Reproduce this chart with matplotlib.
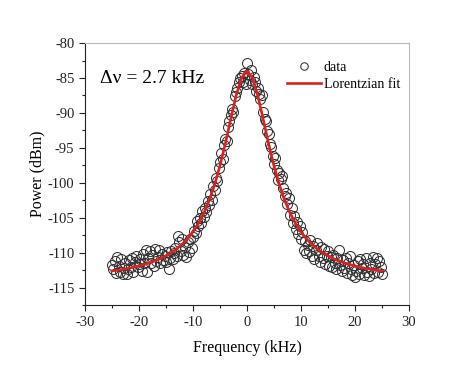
import numpy as np
import matplotlib
matplotlib.use("Agg")
import matplotlib.pyplot as plt
from matplotlib.ticker import MultipleLocator

plt.rcParams['font.family'] = ['Liberation Serif', 'DejaVu Serif']
plt.rcParams['axes.unicode_minus'] = False
plt.rcParams['mathtext.fontset'] = 'stix'

# measured spectrum (kHz, dBm)
freq_khz = [
    -25.0, -24.75, -24.5, -24.25, -24.0, -23.75, -23.5, -23.25, -23.0, -22.75,
    -22.5, -22.25, -22.0, -21.75, -21.5, -21.25, -21.0, -20.75, -20.5, -20.25,
    -20.0, -19.75, -19.5, -19.25, -19.0, -18.75, -18.5, -18.25, -18.0, -17.75,
    -17.5, -17.25, -17.0, -16.75, -16.5, -16.25, -16.0, -15.75, -15.5, -15.25,
    -15.0, -14.75, -14.5, -14.25, -14.0, -13.75, -13.5, -13.25, -13.0, -12.75,
    -12.5, -12.25, -12.0, -11.75, -11.5, -11.25, -11.0, -10.75, -10.5, -10.25,
    -10.0, -9.75, -9.5, -9.25, -9.0, -8.75, -8.5, -8.25, -8.0, -7.75,
    -7.5, -7.25, -7.0, -6.75, -6.5, -6.25, -6.0, -5.75, -5.5, -5.25,
    -5.0, -4.75, -4.5, -4.25, -4.0, -3.75, -3.5, -3.25, -3.0, -2.75,
    -2.5, -2.25, -2.0, -1.75, -1.5, -1.25, -1.0, -0.75, -0.5, -0.25,
    0.0, 0.25, 0.5, 0.75, 1.0, 1.25, 1.5, 1.75, 2.0, 2.25,
    2.5, 2.75, 3.0, 3.25, 3.5, 3.75, 4.0, 4.25, 4.5, 4.75,
    5.0, 5.25, 5.5, 5.75, 6.0, 6.25, 6.5, 6.75, 7.0, 7.25,
    7.5, 7.75, 8.0, 8.25, 8.5, 8.75, 9.0, 9.25, 9.5, 9.75,
    10.0, 10.25, 10.5, 10.75, 11.0, 11.25, 11.5, 11.75, 12.0, 12.25,
    12.5, 12.75, 13.0, 13.25, 13.5, 13.75, 14.0, 14.25, 14.5, 14.75,
    15.0, 15.25, 15.5, 15.75, 16.0, 16.25, 16.5, 16.75, 17.0, 17.25,
    17.5, 17.75, 18.0, 18.25, 18.5, 18.75, 19.0, 19.25, 19.5, 19.75,
    20.0, 20.25, 20.5, 20.75, 21.0, 21.25, 21.5, 21.75, 22.0, 22.25,
    22.5, 22.75, 23.0, 23.25, 23.5, 23.75, 24.0, 24.25, 24.5, 24.75,
    25.0,
]
power_dbm = [
    -111.8, -112.4, -111.2, -112.9, -110.6, -111.9, -112.7, -110.9, -113.1, -112.2,
    -111.5, -113.0, -112.4, -111.0, -112.0, -110.7, -112.8, -111.3, -110.4, -112.1,
    -111.6, -110.9, -112.6, -110.2, -111.4, -109.6, -112.7, -110.8, -109.8, -111.5,
    -110.3, -111.9, -109.5, -111.2, -110.6, -109.6, -111.5, -110.2, -111.0, -110.5,
    -111.3, -109.9, -112.3, -110.8, -109.7, -110.9, -110.1, -109.3, -110.4, -107.6,
    -108.4, -109.8, -108.1, -110.3, -109.2, -110.6, -108.5, -109.9, -108.0, -109.3,
    -107.8, -106.9, -107.2, -105.5, -106.2, -105.0, -105.8, -104.1, -104.9, -103.6,
    -104.2, -102.6, -103.1, -101.6, -102.4, -100.5, -101.0, -99.3, -99.8, -97.9,
    -97.0, -95.8, -96.6, -94.6, -93.7, -94.0, -92.0, -91.2, -90.3, -89.4,
    -89.9, -87.6, -87.0, -86.4, -85.5, -85.0, -84.7, -85.6, -84.3, -85.8,
    -82.9, -84.4, -85.3, -83.9, -85.9, -84.8, -85.6, -86.9, -86.4, -87.3,
    -88.0, -87.4, -89.8, -90.9, -91.2, -92.6, -93.0, -94.5, -94.8, -96.2,
    -97.3, -96.4, -98.1, -99.6, -98.6, -99.5, -99.0, -100.8, -101.9, -101.4,
    -103.0, -102.2, -104.6, -103.6, -105.7, -104.8, -106.6, -105.6, -107.3, -106.2,
    -108.1, -107.0, -109.6, -108.3, -110.1, -108.9, -109.7, -108.2, -110.5, -109.1,
    -110.9, -109.6, -108.6, -110.4, -111.3, -109.2, -110.8, -109.5, -111.6, -110.4,
    -109.8, -111.9, -110.6, -112.0, -110.3, -111.4, -112.3, -110.8, -109.6, -111.7,
    -112.6, -111.0, -112.2, -110.7, -112.9, -111.5, -110.5, -112.4, -113.2, -111.8,
    -113.5, -112.6, -111.2, -113.0, -110.9, -112.2, -111.6, -113.2, -110.8, -112.7,
    -113.3, -111.4, -112.3, -110.6, -112.9, -111.6, -110.7, -112.8, -111.2, -112.0,
    -113.0,
]

# fitted curve
fit_khz = [-25, -24, -23, -22, -21, -20, -19, -18, -17, -16, -15, -14, -13,
           -12, -11, -10, -9, -8, -7, -6, -5, -4, -3, -2, -1, 0,
           1, 2, 3, 4, 5, 6, 7, 8, 9, 10, 11, 12, 13,
           14, 15, 16, 17, 18, 19, 20, 21, 22, 23, 24, 25]
fit_dbm = [-112.62, -112.50, -112.38, -112.24, -112.07, -111.89, -111.68, -111.44,
           -111.16, -110.83, -110.44, -109.99, -109.45, -108.79, -108.00, -107.03,
           -105.84, -104.37, -102.55, -100.30, -97.57, -94.38, -90.88, -87.50,
           -84.96, -84.00, -84.96, -87.50, -90.88, -94.38, -97.57, -100.30,
           -102.55, -104.37, -105.84, -107.03, -108.00, -108.79, -109.45, -109.99,
           -110.44, -110.83, -111.16, -111.44, -111.68, -111.89, -112.07, -112.24,
           -112.38, -112.50, -112.62]

fig = plt.figure(figsize=(4.74, 3.65), dpi=100)
ax = fig.add_axes([0.179, 0.164, 0.684, 0.718])

ax.plot(freq_khz, power_dbm, 'o', mfc='none', mec='#333333', mew=0.75, ms=7.2,
        label='data')
ax.plot(fit_khz, fit_dbm, '-', color='#dd1f1f', lw=1.9, label='Lorentzian fit')

ax.set_xlim(-30, 30)
ax.set_ylim(-117.5, -80)
ax.xaxis.set_major_locator(MultipleLocator(10))
ax.xaxis.set_minor_locator(MultipleLocator(5))
ax.yaxis.set_major_locator(MultipleLocator(5))
ax.yaxis.set_minor_locator(MultipleLocator(2.5))
ax.tick_params(which='both', direction='out', top=False, right=False,
               labelsize=10.5, colors='#222222')
ax.tick_params(which='major', length=4, width=0.8)
ax.tick_params(which='minor', length=2.5, width=0.8)

for s in ['top', 'right']:
    ax.spines[s].set_color('#b8b8b8')
for s in ['left', 'bottom']:
    ax.spines[s].set_color('#222222')

ax.set_xlabel('Frequency (kHz)', fontsize=11.5, labelpad=8)
ax.set_ylabel('Power (dBm)', fontsize=11.5, labelpad=2)

ax.text(0.046, 0.866, 'Δν = 2.7 kHz', transform=ax.transAxes,
        fontsize=14, va='center', ha='left')

ax.legend(loc='upper right', bbox_to_anchor=(1.01, 0.98), frameon=False,
          fontsize=10, handlelength=2.4, handletextpad=0.2, markerscale=0.75,
          labelspacing=0.3)

fig.savefig('out.png', dpi=100)
